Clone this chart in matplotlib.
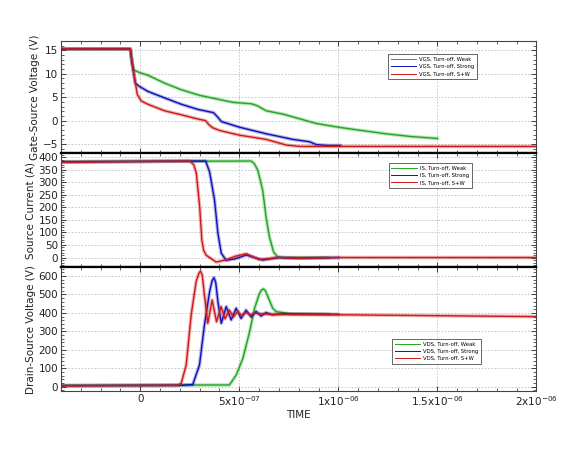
import matplotlib
matplotlib.use("Agg")
import matplotlib.pyplot as plt
from matplotlib.ticker import MultipleLocator, AutoMinorLocator, FixedLocator, FixedFormatter
import numpy as np

# ---------------- data (time in ns) ----------------
vgs_t_green = [-400, -50, -42, -32, 0, 38, 123, 207, 300, 400, 470, 560, 590, 636, 720, 804, 888, 1000, 1100, 1240, 1370, 1500]
vgs_green = [15.3, 15.3, 12.5, 10.8, 10.2, 9.7, 8.0, 6.6, 5.4, 4.5, 3.9, 3.6, 3.2, 2.1, 1.4, 0.4, -0.6, -1.4, -2.0, -2.8, -3.4, -3.8]

vgs_t_blue = [-400, -50, -40, -25, -4, 38, 123, 207, 291, 370, 390, 410, 501, 636, 770, 854, 888, 950, 1010]
vgs_blue = [15.3, 15.3, 12.0, 8.0, 7.3, 6.25, 4.85, 3.5, 2.4, 1.7, 0.8, -0.2, -1.4, -2.8, -4.0, -4.5, -5.1, -5.3, -5.3]

vgs_t_red = [-400, -50, -40, -15, 5, 38, 123, 207, 291, 330, 345, 365, 401, 501, 636, 737, 804, 1000, 1500, 2000]
vgs_red = [15.3, 15.3, 12.0, 5.6, 4.2, 3.5, 2.1, 1.25, 0.35, 0.0, -0.8, -1.5, -2.1, -3.1, -4.0, -5.2, -5.5, -5.5, -5.5, -5.5]

is_t_green = [-400, 560, 575, 593, 618, 635, 652, 673, 694, 720, 800, 950]
is_green = [382, 385, 375, 349, 269, 162, 82, 22, 2, 0, 0, 0]

is_t_blue = [-400, 330, 350, 375, 392, 409, 434, 480, 535, 618, 700, 800, 1000]
is_blue = [382, 385, 342, 229, 97, 17, -11, -5, 10, -10, 0, -3, 0]

is_t_red = [-400, 250, 270, 283, 300, 311, 320, 333, 383, 430, 480, 535, 600, 700, 800, 1000, 1500, 2000]
is_red = [380, 385, 370, 337, 202, 69, 29, 9, -18, -10, 5, 15, -8, 0, -3, 0, 0, 0]

vds_t_green = [-400, 450, 484, 518, 552, 577, 602, 612, 622, 632, 644, 669, 686, 718, 760, 950]
vds_green = [8, 10, 63, 154, 298, 425, 506, 524, 530, 520, 488, 425, 407, 402, 395, 393]

vds_t_blue = [-400, 200, 265, 299, 324, 350, 363, 372, 381, 392, 409, 434, 459, 484, 509, 534, 560, 585, 610, 635, 665, 720, 1000]
vds_blue = [6, 8, 12, 118, 334, 515, 575, 591, 565, 461, 344, 434, 362, 425, 370, 415, 378, 408, 383, 402, 390, 395, 392]

vds_t_red = [-400, 190, 207, 232, 257, 282, 295, 304, 313, 324, 341, 363, 385, 408, 428, 450, 470, 492, 512, 535, 555, 580, 650, 1000, 1500, 2000]
vds_red = [5, 8, 20, 118, 389, 569, 612, 627, 605, 497, 344, 470, 352, 434, 368, 415, 378, 408, 385, 403, 390, 398, 392, 390, 385, 380]

labels_suffix = ["Turn-off, Weak", "Turn-off, Strong", "Turn-off, S+W"]
xtick_values = [0, 5e-7, 1e-6, 1.5e-6, 2e-6]
xtick_labels = ["0", r"5x10$^{-07}$", r"1x10$^{-06}$", r"1.5x10$^{-06}$", r"2x10$^{-06}$"]

colors = ["#1fa81f", "#1010b8", "#d01818"]

def ns(t):
    return np.asarray(t, dtype=float) * 1e-9

fig = plt.figure(figsize=(5.82, 4.5), dpi=100)
L, W = 0.1048, 0.817
ax1 = fig.add_axes([L, 0.660, W, 0.249])
ax2 = fig.add_axes([L, 0.406, W, 0.254], sharex=ax1)
ax3 = fig.add_axes([L, 0.131, W, 0.275], sharex=ax1)

panels = [
    (ax1, "VGS", [(vgs_t_green, vgs_green), (vgs_t_blue, vgs_blue), (vgs_t_red, vgs_red)],
     "Gate-Source Voltage (V)", (-6.9, 17.0), 5, (0.667, 0.880)),
    (ax2, "IS", [(is_t_green, is_green), (is_t_blue, is_blue), (is_t_red, is_red)],
     "Source Current (A)", (-39, 417), 50, (0.668, 0.638)),
    (ax3, "VDS", [(vds_t_green, vds_green), (vds_t_blue, vds_blue), (vds_t_red, vds_red)],
     "Drain-Source Voltage (V)", (-23, 647), 100, (0.674, 0.247)),
]

for ax, name, series, ylabel, ylim, ystep, legpos in panels:
    for (t, v), c, suf in zip(series, colors, labels_suffix):
        ax.plot(ns(t), v, color=c, lw=2.6, alpha=0.3, solid_joinstyle="round")
        ax.plot(ns(t), v, color=c, lw=1.0, label=f"{name}, {suf}")
    ax.set_xlim(-4e-7, 2e-6)
    ax.set_ylim(*ylim)
    ax.yaxis.set_major_locator(MultipleLocator(ystep))
    ax.yaxis.set_minor_locator(AutoMinorLocator(5))
    ax.xaxis.set_major_locator(FixedLocator(xtick_values))
    ax.xaxis.set_minor_locator(MultipleLocator(1e-7))
    ax.grid(True, which="major", color="#c0c0c0", lw=0.6, ls=(0, (2, 2)))
    ax.tick_params(which="both", direction="in", top=True, right=True, labelsize=7.5, colors="#222222", pad=2)
    ax.tick_params(which="major", length=3.5, width=0.6)
    ax.tick_params(which="minor", length=2, width=0.5)
    ax.set_ylabel(ylabel, fontsize=7.5, color="#222222", labelpad=2)
    for s in ax.spines.values():
        s.set_color("#444444")
        s.set_linewidth(0.8)
    leg = ax.legend(loc="upper left", bbox_to_anchor=legpos, bbox_transform=fig.transFigure,
                    fontsize=3.8, handlelength=4.8, frameon=True, fancybox=False,
                    borderpad=0.5, labelspacing=0.45, handletextpad=0.6, borderaxespad=0)
    leg.get_frame().set_edgecolor("#222222")
    leg.get_frame().set_linewidth(0.6)
    for h in leg.get_lines():
        h.set_linewidth(0.7)

for ax in (ax1, ax2):
    ax.tick_params(labelbottom=False)
ax1.spines["bottom"].set_color("black"); ax1.spines["bottom"].set_linewidth(1.6)
ax2.spines["top"].set_color("black"); ax2.spines["top"].set_linewidth(1.6)
ax2.spines["bottom"].set_color("black"); ax2.spines["bottom"].set_linewidth(1.6)
ax3.spines["top"].set_color("black"); ax3.spines["top"].set_linewidth(1.6)

ax3.xaxis.set_major_formatter(FixedFormatter(xtick_labels))
ax3.set_xlabel("TIME", fontsize=7.5, color="#222222", labelpad=2)
fig.align_ylabels([ax1, ax2, ax3])

fig.savefig("out.png", dpi=100, facecolor="white")
